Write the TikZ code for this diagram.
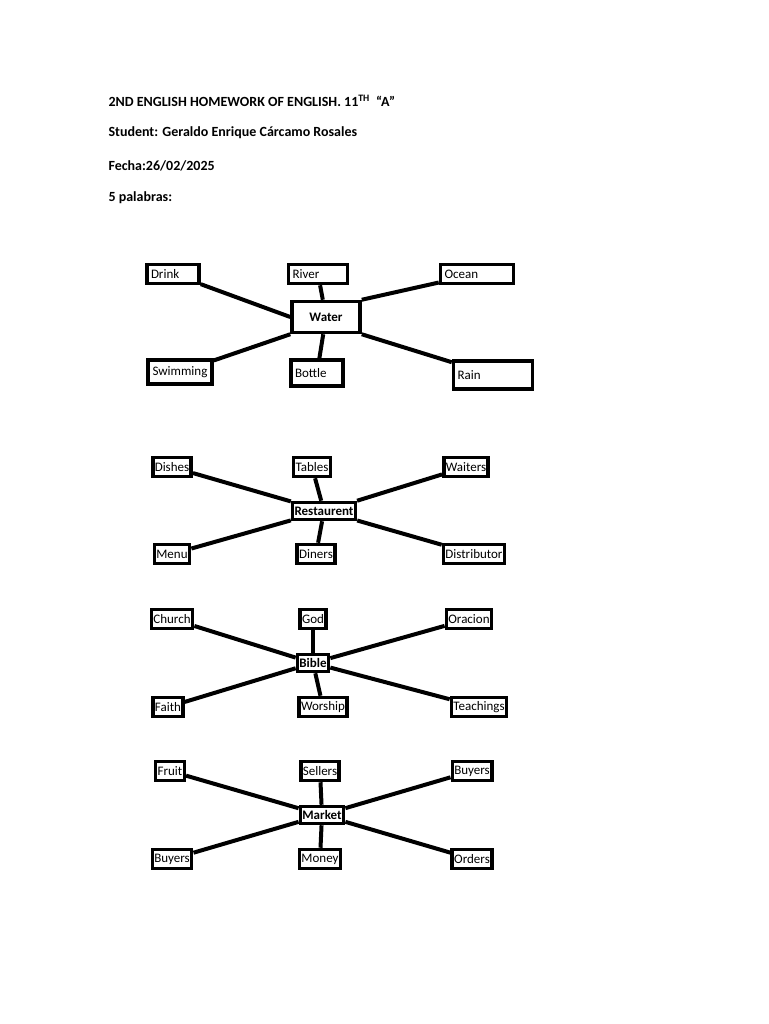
\documentclass[tikz,border=0pt]{standalone}
\usepackage{fontspec}
\setmainfont{Carlito}
\begin{document}
\begin{tikzpicture}[x=1pt,y=-1pt,
  leaf/.style={draw,line width=3.5pt,inner sep=2pt,minimum height=19pt,font=\fontsize{13}{15}\selectfont},
  hub/.style={draw,line width=3.5pt,inner sep=2pt,minimum height=17pt,font=\bfseries\fontsize{13}{15}\selectfont},
  con/.style={line width=4pt},
  hd/.style={anchor=west,font=\bfseries\fontsize{14}{16}\selectfont}]
\useasboundingbox[fill=white] (0,0) rectangle (768,1024);
\node[hd] (h1) at (105,101) {2ND ENGLISH HOMEWORK OF ENGLISH. 11\textsuperscript{TH}\ \ “A”};
\node[hd] (h2) at (105,133) {Student: Geraldo Enrique Cárcamo Rosales};
\node[hd] (h3) at (105,166) {Fecha:26/02/2025};
\node[hd] (h4) at (105,198) {5 palabras:};
% cluster 1
\node[hub,minimum width=68pt,minimum height=31pt] (w) at (326,317) {Water};
\node[leaf,minimum width=52pt,text width=44pt] (w1) at (173,274) {Drink};
\node[leaf,minimum width=59pt,text width=51pt] (w2) at (318,274) {River};
\node[leaf,minimum width=73pt,text width=65pt] (w3) at (477,274) {Ocean};
\node[leaf,minimum width=64pt,minimum height=24pt] (w4) at (180,372) {Swimming};
\node[leaf,minimum width=52pt,text width=44pt,minimum height=26pt] (w5) at (317,373) {Bottle};
\node[leaf,minimum width=79pt,text width=71pt,minimum height=28pt] (w6) at (493,375) {Rain};
\draw[con] (w1) -- (w.west); \draw[con] (w2) -- (w); \draw[con] (w3) -- (w.north east);
\draw[con] (w4) -- (w.south west); \draw[con] (w5) -- (w); \draw[con] (w6) -- (w.south east);
% cluster 2
\node[hub] (r) at (324,511) {Restaurent};
\node[leaf] (r1) at (172,467) {Dishes};
\node[leaf] (r2) at (312,467) {Tables};
\node[leaf] (r3) at (466,467) {Waiters};
\node[leaf] (r4) at (172,554) {Menu};
\node[leaf] (r5) at (316,554) {Diners};
\node[leaf] (r6) at (474,554) {Distributor};
\foreach \i in {1,...,6} {\draw[con] (r\i) -- (r);}
% cluster 3
\node[hub] (b) at (313,663) {Bible};
\node[leaf] (b1) at (172,619) {Church};
\node[leaf] (b2) at (313,619) {God};
\node[leaf] (b3) at (469,619) {Oracion};
\node[leaf] (b4) at (168,707) {Faith};
\node[leaf] (b5) at (323,707) {Worship};
\node[leaf] (b6) at (479,707) {Teachings};
\foreach \i in {1,...,6} {\draw[con] (b\i) -- (b);}
% cluster 4
\node[hub] (m) at (322,815) {Market};
\node[leaf] (m1) at (170,771) {Fruit};
\node[leaf] (m2) at (320,771) {Sellers};
\node[leaf] (m3) at (472,771) {Buyers};
\node[leaf] (m4) at (172,859) {Buyers};
\node[leaf] (m5) at (320,859) {Money};
\node[leaf] (m6) at (472,859) {Orders};
\foreach \i in {1,...,6} {\draw[con] (m\i) -- (m);}
\end{tikzpicture}
\end{document}
